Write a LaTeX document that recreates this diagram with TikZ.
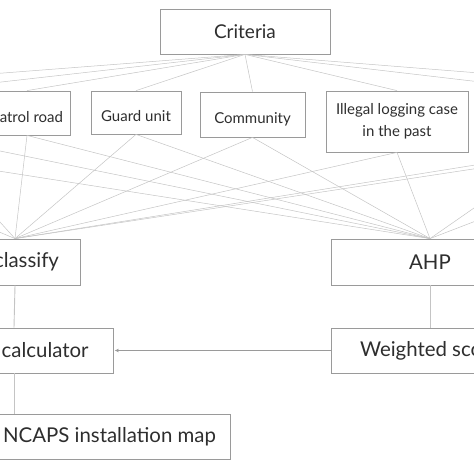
\documentclass[tikz,border=0pt]{standalone}
\usepackage{fontspec}
\setmainfont{Lato}
\usetikzlibrary{arrows.meta}
\definecolor{boxgray}{HTML}{9A9A9A}
\definecolor{linegray}{HTML}{C4C4C4}
\definecolor{textgray}{HTML}{2E2E2E}
\begin{document}
\begin{tikzpicture}[x=1pt,y=-1pt,
  box/.style={draw=boxgray, line width=0.8pt, fill=white, inner sep=0pt, text=textgray, align=center},
  top/.style={font=\fontsize{19}{22}\selectfont},
  big/.style={font=\fontsize{20.4}{24}\selectfont},
  mid/.style={font=\fontsize{15}{22}\selectfont},
  low/.style={text height=18pt, text depth=0pt},
  wire/.style={draw=linegray, line width=0.5pt},
  link/.style={draw=linegray, line width=0.9pt}]
\useasboundingbox (0,0) rectangle (474,474);
\clip (0,0) rectangle (474,474);
% top
\node[box,top,minimum width=170pt,minimum height=45pt] (crit) at (245,31.5) {Criteria};
% criteria row
\node[box,minimum width=120pt,minimum height=43pt] (l2) at (-232,113) {};
\node[box,minimum width=100pt,minimum height=43pt] (l1) at (-79,113) {};
\node[box,mid,low,minimum width=86pt,minimum height=44pt] (patrol) at (27,113) {Patrol road};
\node[box,mid,low,minimum width=90pt,minimum height=43pt] (guard) at (136,112.5) {Guard unit};
\node[box,mid,low,minimum width=105pt,minimum height=45pt] (comm) at (252.5,114.5) {Community};
\node[box,mid,minimum width=142pt,minimum height=61pt] (illegal) at (397,121.5) {Illegal logging case\\in the past};
\node[box,minimum width=130pt,minimum height=61pt] (r1) at (554,121.5) {};
\node[box,minimum width=120pt,minimum height=43pt] (r2) at (701,112.5) {};
% processing
\node[box,big,minimum width=130pt,minimum height=46pt] (recl) at (15,262) {Reclassify};
\node[box,big,minimum width=198pt,minimum height=46pt] (ahp) at (430,262) {AHP};
\node[box,big,minimum width=198pt,minimum height=45pt] (calc) at (14,350.5) {Raster calculator};
\node[box,big,minimum width=198pt,minimum height=45pt] (wsc) at (430,350.5) {Weighted score};
\node[box,big,minimum width=241pt,minimum height=45pt] (map) at (109.5,436.5) {NCAPS installation map};
% connectors
\foreach \n in {l2,l1,patrol,guard,comm,illegal,r1,r2}{
  \draw[wire] (crit.south) -- (\n.north);
  \draw[wire] (\n.south) -- (recl.north);
  \draw[wire] (\n.south) -- (ahp.north);
}
\draw[link] (recl.south) -- (calc.north);
\draw[link] (calc.south) -- (map.north -| calc.south);
\draw[link] (ahp.south) -- (wsc.north);
\draw[link,-{Stealth[length=4pt,width=3.5pt]},boxgray] (wsc.west) -- ([xshift=1.5pt]calc.east);
\end{tikzpicture}
\end{document}
